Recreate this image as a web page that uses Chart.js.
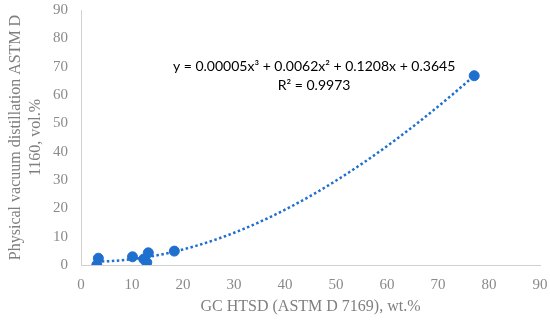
<!DOCTYPE html>
<html>
<head>
<meta charset="utf-8">
<script src="https://cdn.jsdelivr.net/npm/chart.js@4.4.0/dist/chart.umd.min.js"></script>
<style>
  html, body { margin: 0; padding: 0; background: #fff; }
  #wrap { width: 550px; height: 324px; }
</style>
</head>
<body>
<div id="wrap"><canvas id="htsdChart"></canvas></div>
<script>
  // measured points: GC HTSD wt.% vs physical distillation vol.%
  const gcHtsd = [3.1, 3.4, 10.1, 12.3, 12.9, 13.2, 18.3, 77.1];
  const vacDist = [0.0, 2.4, 2.9, 2.1, 0.9, 4.3, 4.9, 66.8];

  const trendLabel = ['y = 0.00005x³ + 0.0062x² + 0.1208x + 0.3645', 'R² = 0.9973'];

  const axisMin = 0, axisMax = 90, axisStep = 10;
  const xTitle = 'GC HTSD (ASTM D 7169), wt.%';
  const yTitle = ['Physical vacuum distillation ASTM D', '1160, vol.%'];

  const blue = '#1f6fcf';
  const serif = "'Liberation Serif', 'DejaVu Serif', serif";
  Chart.defaults.font.family = serif;

  // least squares cubic fit of the points (like the spreadsheet trendline)
  function cubicFit(xs, ys) {
    let n = 4;
    let A = [], b = [];
    for (let r = 0; r < n; r++) {
      A.push([]);
      for (let c = 0; c < n; c++) {
        A[r].push(xs.reduce((s, x) => s + Math.pow(x, r + c), 0));
      }
      b.push(xs.reduce((s, x, i) => s + Math.pow(x, r) * ys[i], 0));
    }
    for (let i = 0; i < n; i++) {
      let p = i;
      for (let k = i + 1; k < n; k++) if (Math.abs(A[k][i]) > Math.abs(A[p][i])) p = k;
      [A[i], A[p]] = [A[p], A[i]];
      [b[i], b[p]] = [b[p], b[i]];
      for (let k = i + 1; k < n; k++) {
        let f = A[k][i] / A[i][i];
        for (let c = i; c < n; c++) A[k][c] -= f * A[i][c];
        b[k] -= f * b[i];
      }
    }
    let coef = new Array(n).fill(0);
    for (let i = n - 1; i >= 0; i--) {
      let s = b[i];
      for (let c = i + 1; c < n; c++) s -= A[i][c] * coef[c];
      coef[i] = s / A[i][i];
    }
    return coef; // c0 + c1 x + c2 x^2 + c3 x^3
  }

  const coef = cubicFit(gcHtsd, vacDist);
  let trendPts = [];
  const xFrom = Math.min(...gcHtsd), xTo = Math.max(...gcHtsd);
  for (let i = 0; i <= 80; i++) {
    let x = xFrom + (xTo - xFrom) * i / 80;
    let y = coef[0] + coef[1] * x + coef[2] * x * x + coef[3] * x * x * x;
    trendPts.push({x: x, y: y});
  }

  let points = gcHtsd.map((x, i) => ({x: x, y: vacDist[i]}));

  // equation text drawn in data space
  const eqLabel = {
    id: 'eqLabel',
    afterDatasetsDraw(chart) {
      const ctx = chart.ctx;
      const xs = chart.scales.x, ys = chart.scales.y;
      ctx.save();
      ctx.fillStyle = '#000';
      ctx.font = "14px 'Lato', 'Liberation Sans', sans-serif";
      ctx.textAlign = 'center';
      ctx.textBaseline = 'middle';
      ctx.fillText(trendLabel[0], xs.getPixelForValue(45.7), ys.getPixelForValue(70.1));
      ctx.fillText(trendLabel[1], xs.getPixelForValue(45.7), ys.getPixelForValue(63.4));
      ctx.restore();
    }
  };

  // fixed box sizes, no extra room for the end labels
  function fitX(scale) {
    scale.height = 59;
    scale.paddingLeft = 0;
    scale.paddingRight = 0;
  }
  function fitY(scale) {
    scale.width = 76;
    scale.paddingTop = 0;
    scale.paddingBottom = 0;
  }

  new Chart('htsdChart', {
    type: 'scatter',
    data: {
      datasets: [{
        data: points,
        backgroundColor: blue,
        borderColor: blue,
        pointRadius: 5,
        pointHoverRadius: 5,
        order: 1
      }, {
        type: 'line',
        data: trendPts,
        borderColor: blue,
        borderWidth: 2.5,
        borderDash: [2.5, 2.5],
        pointRadius: 0,
        tension: 0,
        fill: false,
        order: 2
      }]
    },
    plugins: [eqLabel],
    options: {
      responsive: true,
      maintainAspectRatio: false,
      animation: false,
      layout: {autoPadding: false, padding: {top: 10, right: 10, left: 5, bottom: 0}},
      plugins: {
        legend: {display: false},
        tooltip: {enabled: false}
      },
      scales: {
        x: {
          type: 'linear',
          min: axisMin,
          max: axisMax,
          afterFit: fitX,
          grid: {display: false, drawTicks: false},
          border: {display: true, color: '#d0d0d0', width: 1},
          ticks: {stepSize: axisStep, color: '#8a8a8a', font: {family: serif, size: 15}, padding: 11},
          title: {display: true, text: xTitle, color: '#7f7f7f', font: {family: serif, size: 16}, padding: {top: 0, bottom: 8}}
        },
        y: {
          type: 'linear',
          min: axisMin,
          max: axisMax,
          afterFit: fitY,
          grid: {display: false, drawTicks: false},
          border: {display: true, color: '#d0d0d0', width: 1},
          ticks: {stepSize: axisStep, color: '#8a8a8a', font: {family: serif, size: 15}, padding: 13},
          title: {display: true, text: yTitle, color: '#7f7f7f', font: {family: serif, size: 16, lineHeight: 1.3}, padding: 0}
        }
      }
    }
  });
</script>
</body>
</html>
